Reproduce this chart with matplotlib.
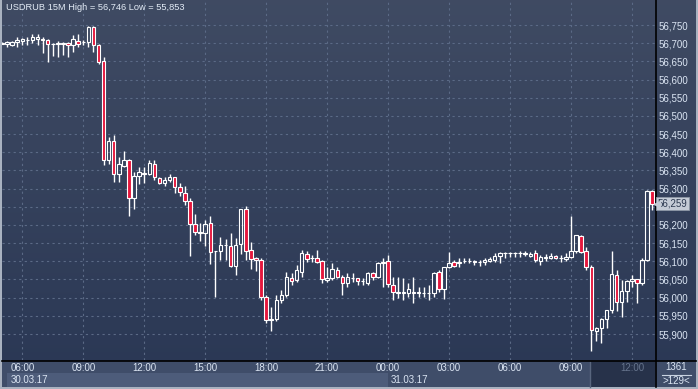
import matplotlib
matplotlib.use("Agg")
from matplotlib import pyplot as plt
from matplotlib.patches import Rectangle
import numpy as np
import pandas as pd

plt.rcParams["font.family"] = ["Liberation Sans", "DejaVu Sans"]

# 15M candles USDRUB, 30.03.17 05:00 .. 31.03.17 13:00
opens = [56698, 56698, 56696, 56704, 56706, 56709, 56709, 56711, 56711, 56709,
         56697, 56698, 56699, 56700, 56695, 56707, 56702, 56702, 56744, 56695,
         56651, 56378, 56431, 56339, 56363, 56379, 56275, 56335, 56344, 56339,
         56368, 56328, 56315, 56325, 56331, 56304, 56287, 56266, 56202, 56180,
         56179, 56205, 56127, 56127, 56145, 56141, 56087, 56148, 56243, 56132,
         56109, 56104, 56002, 55938, 55940, 55993, 56007, 56055, 56049, 56071,
         56120, 56108, 56108, 56100, 56049, 56053, 56076, 56058, 56039, 56053,
         56053, 56046, 56039, 56067, 56056, 56094, 56101, 56035, 56014, 56014,
         56012, 56016, 56014, 56014, 56013, 56012, 56071, 56023, 56083, 56099,
         56094, 56101, 56101, 56101, 56097, 56097, 56101, 56104, 56115, 56122,
         56123, 56123, 56122, 56121, 56115, 56124, 56102, 56110, 56110, 56115,
         56108, 56105, 56113, 56129, 56170, 56129, 56085, 55907, 55916, 55941,
         55966, 56062, 55987, 56017, 56046, 56051, 56041, 56104, 56293]
highs = [56702, 56705, 56705, 56716, 56713, 56718, 56724, 56724, 56716, 56711,
         56700, 56705, 56704, 56704, 56723, 56724, 56709, 56746, 56746, 56697,
         56663, 56441, 56447, 56388, 56403, 56382, 56347, 56359, 56359, 56380,
         56380, 56333, 56331, 56339, 56333, 56315, 56306, 56275, 56230, 56205,
         56214, 56225, 56129, 56166, 56160, 56177, 56164, 56245, 56252, 56154,
         56112, 56108, 56007, 55975, 56007, 56021, 56071, 56067, 56090, 56130,
         56127, 56117, 56130, 56104, 56084, 56094, 56085, 56062, 56067, 56067,
         56055, 56053, 56071, 56071, 56099, 56108, 56117, 56058, 56058, 56053,
         56039, 56058, 56030, 56030, 56035, 56071, 56076, 56085, 56126, 56104,
         56108, 56108, 56108, 56104, 56104, 56108, 56113, 56122, 56126, 56126,
         56126, 56126, 56127, 56128, 56126, 56131, 56117, 56120, 56122, 56117,
         56117, 56122, 56224, 56172, 56172, 56140, 56090, 55920, 55944, 55966,
         56129, 56076, 56049, 56049, 56062, 56051, 56108, 56296, 56296]
lows = [56697, 56690, 56692, 56690, 56694, 56694, 56700, 56695, 56672, 56647,
        56665, 56663, 56668, 56663, 56677, 56689, 56695, 56690, 56677, 56642,
        56365, 56367, 56317, 56319, 56360, 56225, 56245, 56312, 56315, 56337,
        56325, 56312, 56306, 56319, 56287, 56280, 56255, 56115, 56173, 56155,
        56141, 56092, 56003, 56104, 56104, 56085, 56063, 56120, 56104, 56078,
        56072, 55993, 55930, 55907, 55935, 55985, 56002, 56035, 56044, 56058,
        56099, 56099, 56094, 56039, 56044, 56049, 56053, 56007, 56030, 56044,
        56035, 56035, 56035, 56049, 56053, 56030, 56030, 55993, 56000, 55993,
        56002, 55984, 56002, 56002, 55993, 56002, 56016, 55996, 56081, 56085,
        56085, 56094, 56094, 56090, 56088, 56090, 56097, 56099, 56094, 56108,
        56112, 56112, 56112, 56115, 56113, 56099, 56090, 56102, 56105, 56105,
        56099, 56102, 56108, 56124, 56122, 56076, 55853, 55880, 55875, 55916,
        55957, 55962, 55948, 55989, 56030, 55985, 56035, 56102, 56241]
closes = [56701, 56704, 56704, 56709, 56711, 56709, 56718, 56716, 56709, 56697,
          56698, 56700, 56699, 56694, 56711, 56698, 56702, 56744, 56695, 56647,
          56379, 56431, 56339, 56368, 56379, 56273, 56335, 56345, 56339, 56370,
          56331, 56315, 56325, 56331, 56304, 56290, 56266, 56202, 56180, 56179,
          56202, 56126, 56129, 56144, 56145, 56087, 56146, 56243, 56128, 56107,
          56104, 56002, 55938, 55940, 55993, 56007, 56058, 56047, 56076, 56123,
          56105, 56108, 56099, 56051, 56053, 56078, 56058, 56039, 56058, 56053,
          56046, 56046, 56067, 56056, 56094, 56099, 56037, 56016, 56014, 56014,
          56023, 56012, 56014, 56013, 56013, 56068, 56025, 56083, 56094, 56087,
          56099, 56101, 56101, 56097, 56097, 56104, 56107, 56115, 56122, 56123,
          56123, 56122, 56123, 56122, 56120, 56104, 56111, 56111, 56115, 56108,
          56108, 56113, 56129, 56171, 56126, 56085, 55910, 55916, 55941, 55966,
          56064, 55987, 56017, 56046, 56051, 56041, 56104, 56293, 56259]

price_ticks = np.arange(55900, 56751, 50)
time_ticks = np.arange(6, 37, 3)
time_labels = ["06:00", "09:00", "12:00", "15:00", "18:00", "21:00",
               "00:00", "03:00", "06:00", "09:00", "12:00"]

W, H = 698, 389
times = pd.date_range("2017-03-30 05:00", periods=len(closes), freq="15min")
hours = ((times - pd.Timestamp("2017-03-30")).total_seconds() / 3600).values

o = np.array(opens, float)
c = np.array(closes, float)
hi = np.array(highs, float)
lo = np.array(lows, float)
top = np.maximum(o, c)
bot = np.minimum(o, c)
last = closes[-1]

fig = plt.figure(figsize=(W / 100, H / 100), dpi=100)
fig.patch.set_facecolor("#a9b2c0")

# background panels, pixel coordinates
bg = fig.add_axes([0, 0, 1, 1])
bg.set_xlim(0, W)
bg.set_ylim(H, 0)
bg.axis("off")
grad = np.linspace([0.248, 0.293, 0.388], [0.170, 0.222, 0.335], 200)[:, None, :]
bg.imshow(grad, extent=[2, 696, 361, 0], aspect="auto", interpolation="bilinear")
bg.add_patch(Rectangle((2, 361), 694, 26, color="#3f4d69", lw=0))
bg.add_patch(Rectangle((7, 373), 381, 14, color="#4d5c7a", lw=0))
bg.add_patch(Rectangle((591, 361), 64, 26, color="#27324a", lw=0))
bg.plot([589.5, 589.5], [362, 387], color="#59667e", lw=1)
bg.plot([2, 696], [360.5, 360.5], color="black", lw=1.2)
bg.plot([655.5, 655.5], [0, 387], color="black", lw=1.2)
bg.plot([662, 691], [374.5, 374.5], color="#c9d3e1", lw=0.8)
bg.set_xlim(0, W)
bg.set_ylim(H, 0)

# main chart
x0, x1, y0, y1 = 2, 655, 0, 360
ax = fig.add_axes([x0 / W, 1 - y1 / H, (x1 - x0) / W, (y1 - y0) / H])
ax.patch.set_alpha(0)
px_h = 20.32
ax.set_xlim(6 + (x0 - 22.3) / px_h, 6 + (x1 - 22.3) / px_h)
ax.set_ylim(55900 + (334 - y1) * 2.751, 55900 + (334 - y0) * 2.751)

for s in ax.spines.values():
    s.set_visible(False)

# the last-price box covers the tick label next to it
ylabels = [f"{v:,}" if abs(v - last) > 25 else "" for v in price_ticks]
ax.set_yticks(price_ticks)
ax.set_yticklabels(ylabels)
ax.yaxis.tick_right()
ax.set_xticks(time_ticks)
ax.set_xticklabels(time_labels)
ax.tick_params(axis="both", length=0, labelsize=7, labelcolor="#dbe5f3")
ax.tick_params(axis="y", pad=2.5)
ax.tick_params(axis="x", pad=2.5)
ax.get_xticklabels()[-1].set_color("#66748d")
ax.grid(True, color="#5b6a86", lw=0.8, linestyle=(0, (2, 3)))
ax.set_axisbelow(True)

ax.vlines(hours, top, hi, color="white", lw=1, zorder=3)
ax.vlines(hours, lo, bot, color="white", lw=1, zorder=3)
faces = ["#e5173d" if cc < oo else "none" for oo, cc in zip(o, c)]
ax.bar(hours, np.maximum(top - bot, 0.5), bottom=bot, width=0.17,
       color=faces, edgecolor="white", linewidth=0.8, zorder=4)

# last price marker
ax.text(1.004, last, f"{last:,}", transform=ax.get_yaxis_transform(),
        ha="left", va="center", fontsize=7, color="#2c3950",
        bbox=dict(boxstyle="square,pad=0.2", fc="#c4cbd6", ec="#8d97a6", lw=0.6),
        zorder=6, clip_on=False)
ax.plot([1.003], [last], marker="<", ms=4, color="#c4cbd6",
        transform=ax.get_yaxis_transform(), clip_on=False, zorder=7)

ax.text(4 / (x1 - x0), 1 - 8 / (y1 - y0),
        "USDRUB 15M High = 56,746 Low = 55,853", transform=ax.transAxes,
        ha="left", va="center", fontsize=6.7, color="#e3ebf6")

fig.text(11 / W, 1 - 380 / H, "30.03.17", ha="left", va="center",
         fontsize=7, color="#dbe5f3")
fig.text(391 / W, 1 - 380 / H, "31.03.17", ha="left", va="center",
         fontsize=7, color="#dbe5f3")
fig.text(676 / W, 1 - 367 / H, "1361", ha="center", va="center",
         fontsize=7, color="#dbe5f3")
fig.text(676 / W, 1 - 381 / H, ">129<", ha="center", va="center",
         fontsize=7, color="#dbe5f3")

fig.savefig("out.png", dpi=100, facecolor=fig.get_facecolor())
